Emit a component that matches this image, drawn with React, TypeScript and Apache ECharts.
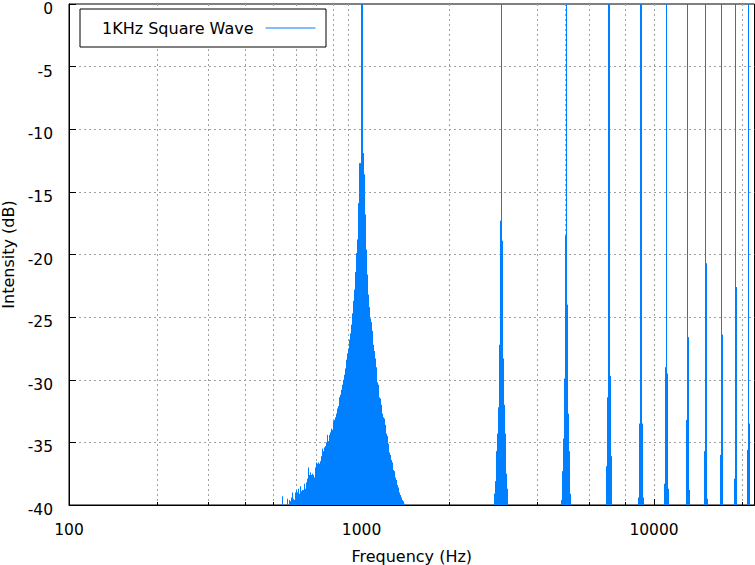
import React, { useEffect, useRef } from "react";
import * as echarts from "echarts";

// ---- data (frequency Hz, intensity dB) ----
const seriesName = "1KHz Square Wave";

const fundamental: [number, number][] = [
  [536, -39.3], [557, -39.5], [566, -39.6], [571, -39.7], [575, -39.4], [580, -39.0],
  [584, -39.5], [589, -39.6], [593, -39.0], [598, -38.8], [603, -39.0], [608, -38.7],
  [612, -39.1], [617, -38.5], [622, -38.9], [627, -38.8], [632, -38.8], [637, -38.3],
  [642, -38.7], [647, -38.2], [652, -37.9], [657, -37.0], [663, -37.6], [668, -37.4],
  [673, -37.6], [678, -37.5], [684, -37.6], [689, -37.8], [695, -37.0], [700, -36.6],
  [706, -36.7], [711, -36.6], [717, -36.7], [723, -36.5], [728, -36.1], [734, -35.5],
  [740, -35.7], [746, -35.4], [752, -35.3], [757, -35.0], [763, -34.4], [770, -34.9],
  [776, -34.4], [782, -34.2], [788, -33.9], [794, -34.0], [800, -33.3], [807, -33.2],
  [813, -33.0], [820, -32.7], [826, -32.3], [833, -32.1], [839, -31.4], [846, -31.2],
  [852, -30.8], [859, -30.4], [866, -30.0], [873, -29.6], [880, -29.1], [887, -28.4],
  [894, -27.9], [901, -27.5], [908, -26.8], [915, -26.3], [922, -25.6], [930, -24.7],
  [937, -23.7], [944, -22.8], [952, -21.4], [959, -19.9], [967, -18.8], [975, -15.9],
  [982, -12.7], [990, -12.7], [1000, 0], [1006, 0], [1014, -11.9], [1022, -13.6],
  [1030, -16.8], [1038, -19.6], [1046, -21.6], [1054, -23.2], [1063, -24.2], [1071, -25.1],
  [1080, -25.4], [1088, -26.1], [1097, -27.2], [1105, -27.7], [1114, -28.3], [1123, -29.0],
  [1132, -30.2], [1141, -30.4], [1150, -31.4], [1159, -31.5], [1168, -32.0], [1177, -32.7],
  [1187, -33.0], [1196, -33.1], [1205, -33.6], [1215, -34.3], [1225, -34.5], [1234, -35.1],
  [1244, -35.8], [1254, -36.0], [1264, -36.4], [1274, -36.6], [1284, -37.2], [1294, -37.3],
  [1304, -37.8], [1315, -38.0], [1325, -38.4], [1335, -38.6], [1346, -39.0], [1357, -39.2],
  [1367, -39.4], [1378, -39.6], [1389, -39.7], [1400, -39.9],
];

const harmonic3: [number, number][] = [
  [2842, -39.1], [2865, -38.1], [2887, -35.7], [2910, -34.3], [2934, -32.2], [2957, -27.2],
  [2980, -17.3], [3000, 0], [3027, -18.9], [3051, -28.3], [3075, -32.0], [3099, -34.3],
  [3124, -37.5], [3148, -38.7],
];

const harmonic5: [number, number][] = [
  [4816, -39.6], [4855, -37.3], [4893, -34.7], [4932, -29.9], [4970, -18.5], [5010, 0],
  [5049, -24.0], [5089, -32.7], [5129, -35.7], [5169, -39.1],
];

const harmonic7: [number, number][] = [
  [6855, -36.9], [6912, -31.4], [6970, 0], [7029, 0], [7088, -29.7], [7147, -36.1],
];

const harmonic9: [number, number][] = [
  [8831, -39.4], [8900, -33.5], [8970, 0], [9041, 0], [9113, -33.5], [9184, -39.4],
];

const harmonic11: [number, number][] = [
  [10836, -38.3], [10921, -29.0], [11007, 0], [11093, -29.5], [11180, -38.7],
];

const harmonic13: [number, number][] = [
  [12888, -33.2], [12990, 0], [13092, -26.6], [13195, -38.8],
];

const harmonic15: [number, number][] = [
  [14848, -35.7], [15000, 0], [15082, -20.7], [15202, -39.5],
];

const harmonic17: [number, number][] = [
  [16843, -36.0], [17000, 0], [17110, -26.4],
];

const harmonic19: [number, number][] = [
  [18805, -37.9], [19000, 0], [19100, -22.6],
];

const harmonic21: [number, number][] = [
  [20826, -35.6], [20989, 0], [21154, -33.5],
];

const xMin = 100;
const xMax = 22050;
const xTickLabels = [100, 1000, 10000];
const minorGridHz = [200, 300, 400, 500, 600, 700, 800, 900, 2000, 3000, 4000, 5000, 6000, 7000, 8000, 9000, 20000];
const yMin = -40;
const yMax = 0;
const yStep = 5;

const BLUE = "#0080ff";
const GRID_GRAY = "#a0a0a0";
const FONT = "DejaVu Sans";
const FS_TICK = 15.5;
const FS_TEXT = 16;

export default function App() {
  const ref = useRef<HTMLDivElement>(null);

  useEffect(() => {
    if (!ref.current) return;
    const chart = echarts.init(ref.current, undefined, { renderer: "svg" });

    const spectrum = [
      ...fundamental, ...harmonic3, ...harmonic5, ...harmonic7, ...harmonic9, ...harmonic11,
      ...harmonic13, ...harmonic15, ...harmonic17, ...harmonic19, ...harmonic21,
    ];

    const option: any = {
      animation: false,
      backgroundColor: "#ffffff",
      textStyle: { fontFamily: FONT, fontSize: FS_TICK, color: "#000" },
      grid: {
        left: 69,
        right: 0.5,
        top: 4,
        bottom: 60,
        show: true,
        containLabel: false,
        outerBoundsMode: "none",
        borderColor: "#000",
        borderWidth: 1,
        backgroundColor: "transparent",
      },
      legend: {
        show: true,
        left: 80,
        top: 9,
        orient: "horizontal",
        align: "right",
        data: [{ name: seriesName, icon: "rect" }],
        itemWidth: 50,
        itemHeight: 1,
        padding: [8, 10.5, 8, 22],
        backgroundColor: "#ffffff",
        borderColor: "#000",
        borderWidth: 1,
        borderRadius: 0,
        selectedMode: false,
        textStyle: {
          fontFamily: FONT,
          fontSize: FS_TEXT,
          color: "#000",
          lineHeight: 16,
          padding: [6, 7, 0, 0],
        },
      },
      xAxis: {
        type: "log",
        logBase: 10,
        min: xMin,
        max: xMax,
        name: "Frequency (Hz)",
        nameLocation: "middle",
        nameGap: 43,
        nameTextStyle: { fontFamily: FONT, fontSize: FS_TEXT, color: "#000" },
        axisLine: { show: true, onZero: false, lineStyle: { color: "#000", width: 1 } },
        axisTick: { show: true, inside: true, length: 6, lineStyle: { color: "#000" } },
        axisLabel: {
          margin: 17,
          fontFamily: FONT,
          fontSize: FS_TICK,
          color: "#000",
          formatter: (v: number) => {
            const r = Math.round(v);
            return xTickLabels.includes(r) ? String(r) : "";
          },
        },
        splitLine: {
          show: true,
          showMinLine: false,
          showMaxLine: false,
          lineStyle: { color: GRID_GRAY, type: [2, 3], width: 1 },
        },
      },
      yAxis: {
        type: "value",
        min: yMin,
        max: yMax,
        interval: yStep,
        name: "Intensity (dB)",
        nameLocation: "middle",
        nameGap: 53,
        nameTextStyle: { fontFamily: FONT, fontSize: FS_TEXT, color: "#000", lineHeight: 15 },
        axisLine: { show: true, onZero: false, lineStyle: { color: "#000", width: 1 } },
        axisTick: { show: true, inside: true, length: 7, lineStyle: { color: "#000" } },
        axisLabel: {
          margin: 16,
          fontFamily: FONT,
          fontSize: FS_TICK,
          color: "#000",
          verticalAlign: "top",
          lineHeight: 10,
        },
        splitLine: {
          show: true,
          showMinLine: false,
          showMaxLine: false,
          lineStyle: { color: GRID_GRAY, type: [2, 3], width: 1 },
        },
      },
      series: [
        {
          type: "custom",
          name: "minor-grid",
          z: 1,
          silent: true,
          encode: { x: 0, y: 1 },
          data: minorGridHz.map((f) => [f, yMin]),
          renderItem: (params: any, api: any) => {
            const f = api.value(0);
            const top = api.coord([f, yMax]);
            const bot = api.coord([f, yMin]);
            const x = Math.floor(top[0]) + 0.5;
            return {
              type: "group",
              children: [
                {
                  type: "line",
                  shape: { x1: x, y1: top[1], x2: x, y2: bot[1] },
                  style: { stroke: GRID_GRAY, lineWidth: 1, lineDash: [2, 3] },
                },
                {
                  type: "line",
                  shape: { x1: x, y1: bot[1], x2: x, y2: bot[1] - 3 },
                  style: { stroke: "#000", lineWidth: 1 },
                },
              ],
            };
          },
        },
        {
          type: "custom",
          name: seriesName,
          z: 3,
          encode: { x: 0, y: 1 },
          itemStyle: { color: BLUE },
          data: spectrum,
          renderItem: (params: any, api: any) => {
            const f = api.value(0);
            const d = api.value(1);
            const top = api.coord([f, d]);
            const bot = api.coord([f, yMin]);
            const x = Math.floor(top[0]) + 0.5;
            return {
              type: "line",
              shape: { x1: x, y1: bot[1], x2: x, y2: top[1] },
              style: { stroke: BLUE, lineWidth: 1 },
            };
          },
        },
      ],
    };

    chart.setOption(option);
    return () => {
      chart.dispose();
    };
  }, []);

  return (
    <div
      ref={ref}
      style={{ position: "absolute", left: 0, top: 0, width: 755, height: 565, background: "#fff" }}
    />
  );
}
